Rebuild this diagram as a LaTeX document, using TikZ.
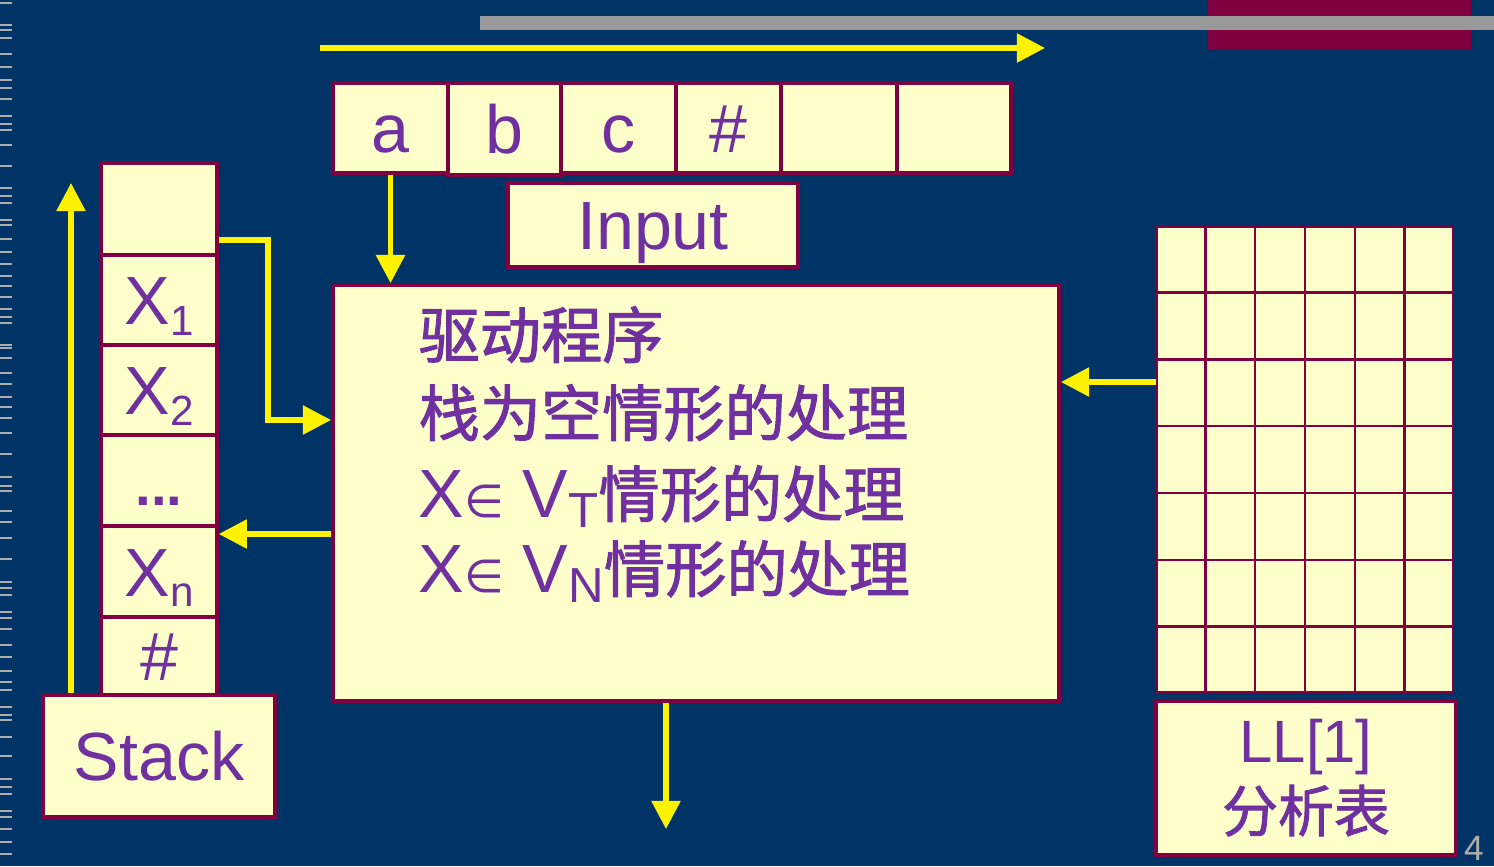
\documentclass[tikz,border=0pt]{standalone}
\usepackage{fontspec}
\setmainfont{Liberation Sans}
\newfontfamily\cjk[FakeBold=1.6]{Noto Sans CJK SC}
\newfontfamily\symf{DejaVu Sans}
\usepackage{tikz}
\tikzset{>=latex}
\usetikzlibrary{arrows.meta}
\usetikzlibrary{calc}
\definecolor{slidebg}{RGB}{0,51,102}
\definecolor{cellfill}{RGB}{255,255,204}
\definecolor{cellline}{RGB}{128,0,64}
\definecolor{ink}{RGB}{112,48,160}
\definecolor{railgray}{RGB}{153,153,153}
\newcommand{\lowsub}[2][12pt]{\raisebox{-3pt}{\fontsize{#1}{#1}\selectfont #2}}
\newcommand{\elem}{{\symf\fontsize{13pt}{13pt}\selectfont ∈}}
\newcommand{\zh}[2][17.4pt]{{\cjk\fontsize{#1}{20pt}\selectfont #2}}

\begin{document}
\begin{tikzpicture}[x=0.01cm, y=-0.01cm]
            \tikzset{boxed/.style={draw=cellline, fill=cellfill, line width=1pt, inner sep=0pt, text=ink, font=\fontsize{19.4pt}{22pt}\selectfont}}
            \tikzset{cell/.style={boxed, text height=14pt, text depth=0pt}}
            \tikzset{size/.style 2 args={minimum width=#1cm, minimum height=#2cm}}
            \tikzset{flow/.style={draw=yellow, line width=1.5pt, -{Triangle[length=8pt, width=8pt]}}}
            \tikzset{line/.style={anchor=base west, inner sep=0pt, text=ink, font=\fontsize{19.4pt}{22pt}\selectfont}}

            \fill[slidebg] (0,0) rectangle (1494,866);
            \useasboundingbox (0,0) rectangle (1494,866);
            \foreach \y in {3,25,30,38,54,67,80,88,99,116,124,130,145,166,188,196,203,220,225,239,252,264,276,286,297,309,317,323,345,348,358,373,384,397,407,418,433,454,477,486,491,511,522,538,559,582,588,595,612,618,629,645,657,671,682,690,707,715,720,737,756,779,787,794,811,817,829,842,854}
                \draw[railgray!80, line width=0.6pt] (0,\y) -- (12,\y);
            \fill[cellline] (1208,0) rectangle (1471,49);
            \fill[railgray] (480,16) rectangle (1494,30);

            \node[cell, size={1.15}{0.90}] (ia) at (390.5,128) {a};
            \node[cell, size={1.13}{0.92}] (ib) at (504.5,129) {b};
            \node[cell, size={1.15}{0.90}] (ic) at (618.5,128) {c};
            \node[cell, size={1.05}{0.90}] (ih) at (728.5,128) {\#};
            \node[cell, size={1.16}{0.90}] (ie) at (839,128) {};
            \node[cell, size={1.14}{0.90}] (if) at (954,128) {};
            \node[cell, size={2.90}{0.84}] (inlbl) at (653,225) {Input};

            \node[boxed, size={7.26}{4.16}] (drv) at (696,493) {};
            \node[line] (l1) at (418,358) {\zh{驱动程序}};
            \node[line] (l2) at (418,436) {\zh{栈为空情形的处理}};
            \node[line] (l3) at (418,517) {X\elem{} V\lowsub[14pt]{T}\zh{情形的处理}};
            \node[line] (l4) at (418,592) {X\elem{} V\lowsub[14pt]{N}\zh{情形的处理}};

            \node[cell, size={1.16}{0.92}] (s0) at (159,209) {};
            \node[cell, size={1.16}{0.90}] (s1) at (159,300) {X\lowsub{1}};
            \node[cell, size={1.16}{0.90}] (s2) at (159,390) {X\lowsub{2}};
            \node[cell, size={1.16}{0.91}] (s3) at (159,480.5) {\fontsize{16pt}{16pt}\selectfont\textbf{...}};
            \node[cell, size={1.16}{0.91}] (s4) at (159,571.5) {X\lowsub{n}};
            \node[cell, size={1.16}{0.78}] (s5) at (159,656) {\#};
            \node[cell, size={2.32}{1.22}] (stk) at (159,756) {Stack};

            \node[boxed, line width=0.7pt, size={2.96}{4.65}] (tbl) at (1305,459.5) {};
            \foreach \i in {1,...,5}
                \draw[cellline, line width=0.7pt] ($(tbl.north west)!\i/6!(tbl.north east)$) -- ($(tbl.south west)!\i/6!(tbl.south east)$);
            \foreach \i in {1,...,6}
                \draw[cellline, line width=0.7pt] ($(tbl.north west)!\i/7!(tbl.south west)$) -- ($(tbl.north east)!\i/7!(tbl.south east)$);
            \node[boxed, size={3.00}{1.54}, align=center, font=\fontsize{17pt}{19.6pt}\selectfont] (llbox) at (1306,778) {LL[1]\\\zh[15.9pt]{分析表}};

            \node[anchor=north, inner sep=0pt, text=railgray!80, font=\fontsize{10pt}{10pt}\selectfont] (pg) at (1474,836) {4};

            \coordinate (scanL) at (320,48);
            \coordinate (scanR) at (1045,48);
            \coordinate (push) at (268,420);
            \coordinate (pop) at (0,534);
            \coordinate (look) at (0,382);
            \coordinate (emit) at (666,829);
            \coordinate (rise) at (71,183);
            \draw[flow] (scanL) -- (scanR);
            \draw[flow] (ia.south) -- (ia.south |- drv.north);
            \draw[flow] ($(s0.east)+(0,31)$) -| (push) -- (push -| drv.west);
            \draw[flow] (drv.west |- pop) -- (s4.east |- pop);
            \draw[flow] (tbl.west |- look) -- (drv.east |- look);
            \draw[flow] (emit |- drv.south) -- (emit);
            \draw[flow] (rise |- stk.north) -- (rise);
        \end{tikzpicture}
\end{document}
